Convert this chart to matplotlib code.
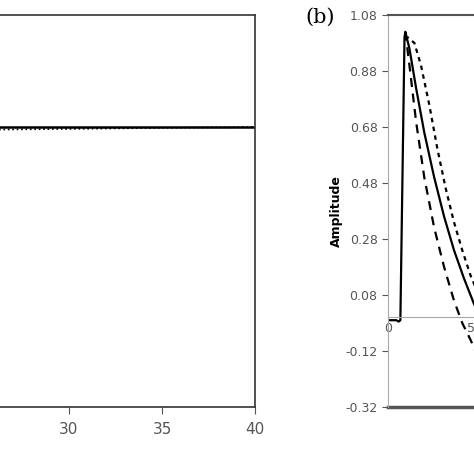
import matplotlib
matplotlib.use("Agg")
import matplotlib.pyplot as plt

# panel (a): only the tail is visible
a_t = [0, 20, 25, 30, 35, 40]
a_solid = [1.0, 1.0, 1.0, 1.0, 1.0, 1.0]
a_dotted = [0.985, 0.985, 0.99, 0.993, 0.997, 1.0]

# panel (b)
b_solid_t = [0, 0.5, 0.65, 0.75, 1.0, 1.05, 1.3, 1.7, 2.2, 2.8, 3.4, 4.0, 4.6, 5.2, 5.6, 6.0]
b_solid_y = [-0.01, -0.01, -0.015, -0.01, 1.0, 1.02, 0.96, 0.82, 0.66, 0.5, 0.36, 0.24, 0.14, 0.05, 0.0, -0.04]
b_dash_t = [1.05, 1.3, 1.7, 2.2, 2.8, 3.4, 4.0, 4.5, 5.0, 5.3]
b_dash_y = [1.02, 0.9, 0.7, 0.5, 0.32, 0.18, 0.06, -0.02, -0.08, -0.12]
b_dot_t = [1.0, 1.2, 1.6, 2.0, 2.5, 3.0, 3.5, 4.0, 4.5, 5.0, 5.5, 6.0]
b_dot_y = [1.0, 1.0, 0.98, 0.9, 0.76, 0.6, 0.46, 0.34, 0.24, 0.15, 0.08, 0.03]

fig = plt.figure(figsize=(4.74, 4.74), dpi=100)

ax1 = fig.add_axes([-489/474, 67/474, 744/474, 392/474])
ax1.plot(a_t, a_solid, color='black', lw=1.8)
ax1.plot(a_t, a_dotted, color='black', lw=1.2, ls=':')
ax1.set_xlim(0, 40)
ax1.set_ylim(0, 1.4)
ax1.set_xticks([30, 35, 40])
ax1.set_yticks([])
ax1.tick_params(axis='x', colors='#555555', labelsize=11, direction='out', length=5, pad=6)
for sp in ax1.spines.values():
    sp.set_color('#333333')
    sp.set_linewidth(1.2)

ax2 = fig.add_axes([388/474, 67/474, 330/474, 392/474])
ax2.plot(b_solid_t, b_solid_y, color='black', lw=1.6)
ax2.plot(b_dash_t, b_dash_y, color='black', lw=1.6, ls=(0, (4, 3)))
ax2.plot(b_dot_t, b_dot_y, color='black', lw=1.6, ls=(0, (2, 2)))
ax2.set_xlim(0, 20)
ax2.set_ylim(-0.32, 1.08)
ax2.set_yticks([1.08, 0.88, 0.68, 0.48, 0.28, 0.08, -0.12, -0.32])
ax2.set_yticklabels(['1.08', '0.88', '0.68', '0.48', '0.28', '0.08', '-0.12', '-0.32'])
ax2.set_xticks([0, 5])
ax2.spines['bottom'].set_position(('data', 0))
ax2.spines['bottom'].set_color('#aaaaaa')
ax2.spines['left'].set_color('#aaaaaa')
ax2.spines['top'].set_color('#555555')
ax2.spines['top'].set_linewidth(1.5)
ax2.axhline(-0.32, color='#555555', lw=2.5, clip_on=False)
ax2.tick_params(axis='y', colors='#555555', labelsize=9, length=4, direction='out')
ax2.tick_params(axis='x', colors='#555555', labelsize=9, length=0, pad=3)
ax2.set_ylabel('Amplitude', fontsize=9, fontweight='bold', labelpad=2)
fig.text(320/474, 1 - 17/474, '(b)', fontsize=15, family='DejaVu Serif', va='center', ha='center')

fig.savefig('out.png', dpi=100)
